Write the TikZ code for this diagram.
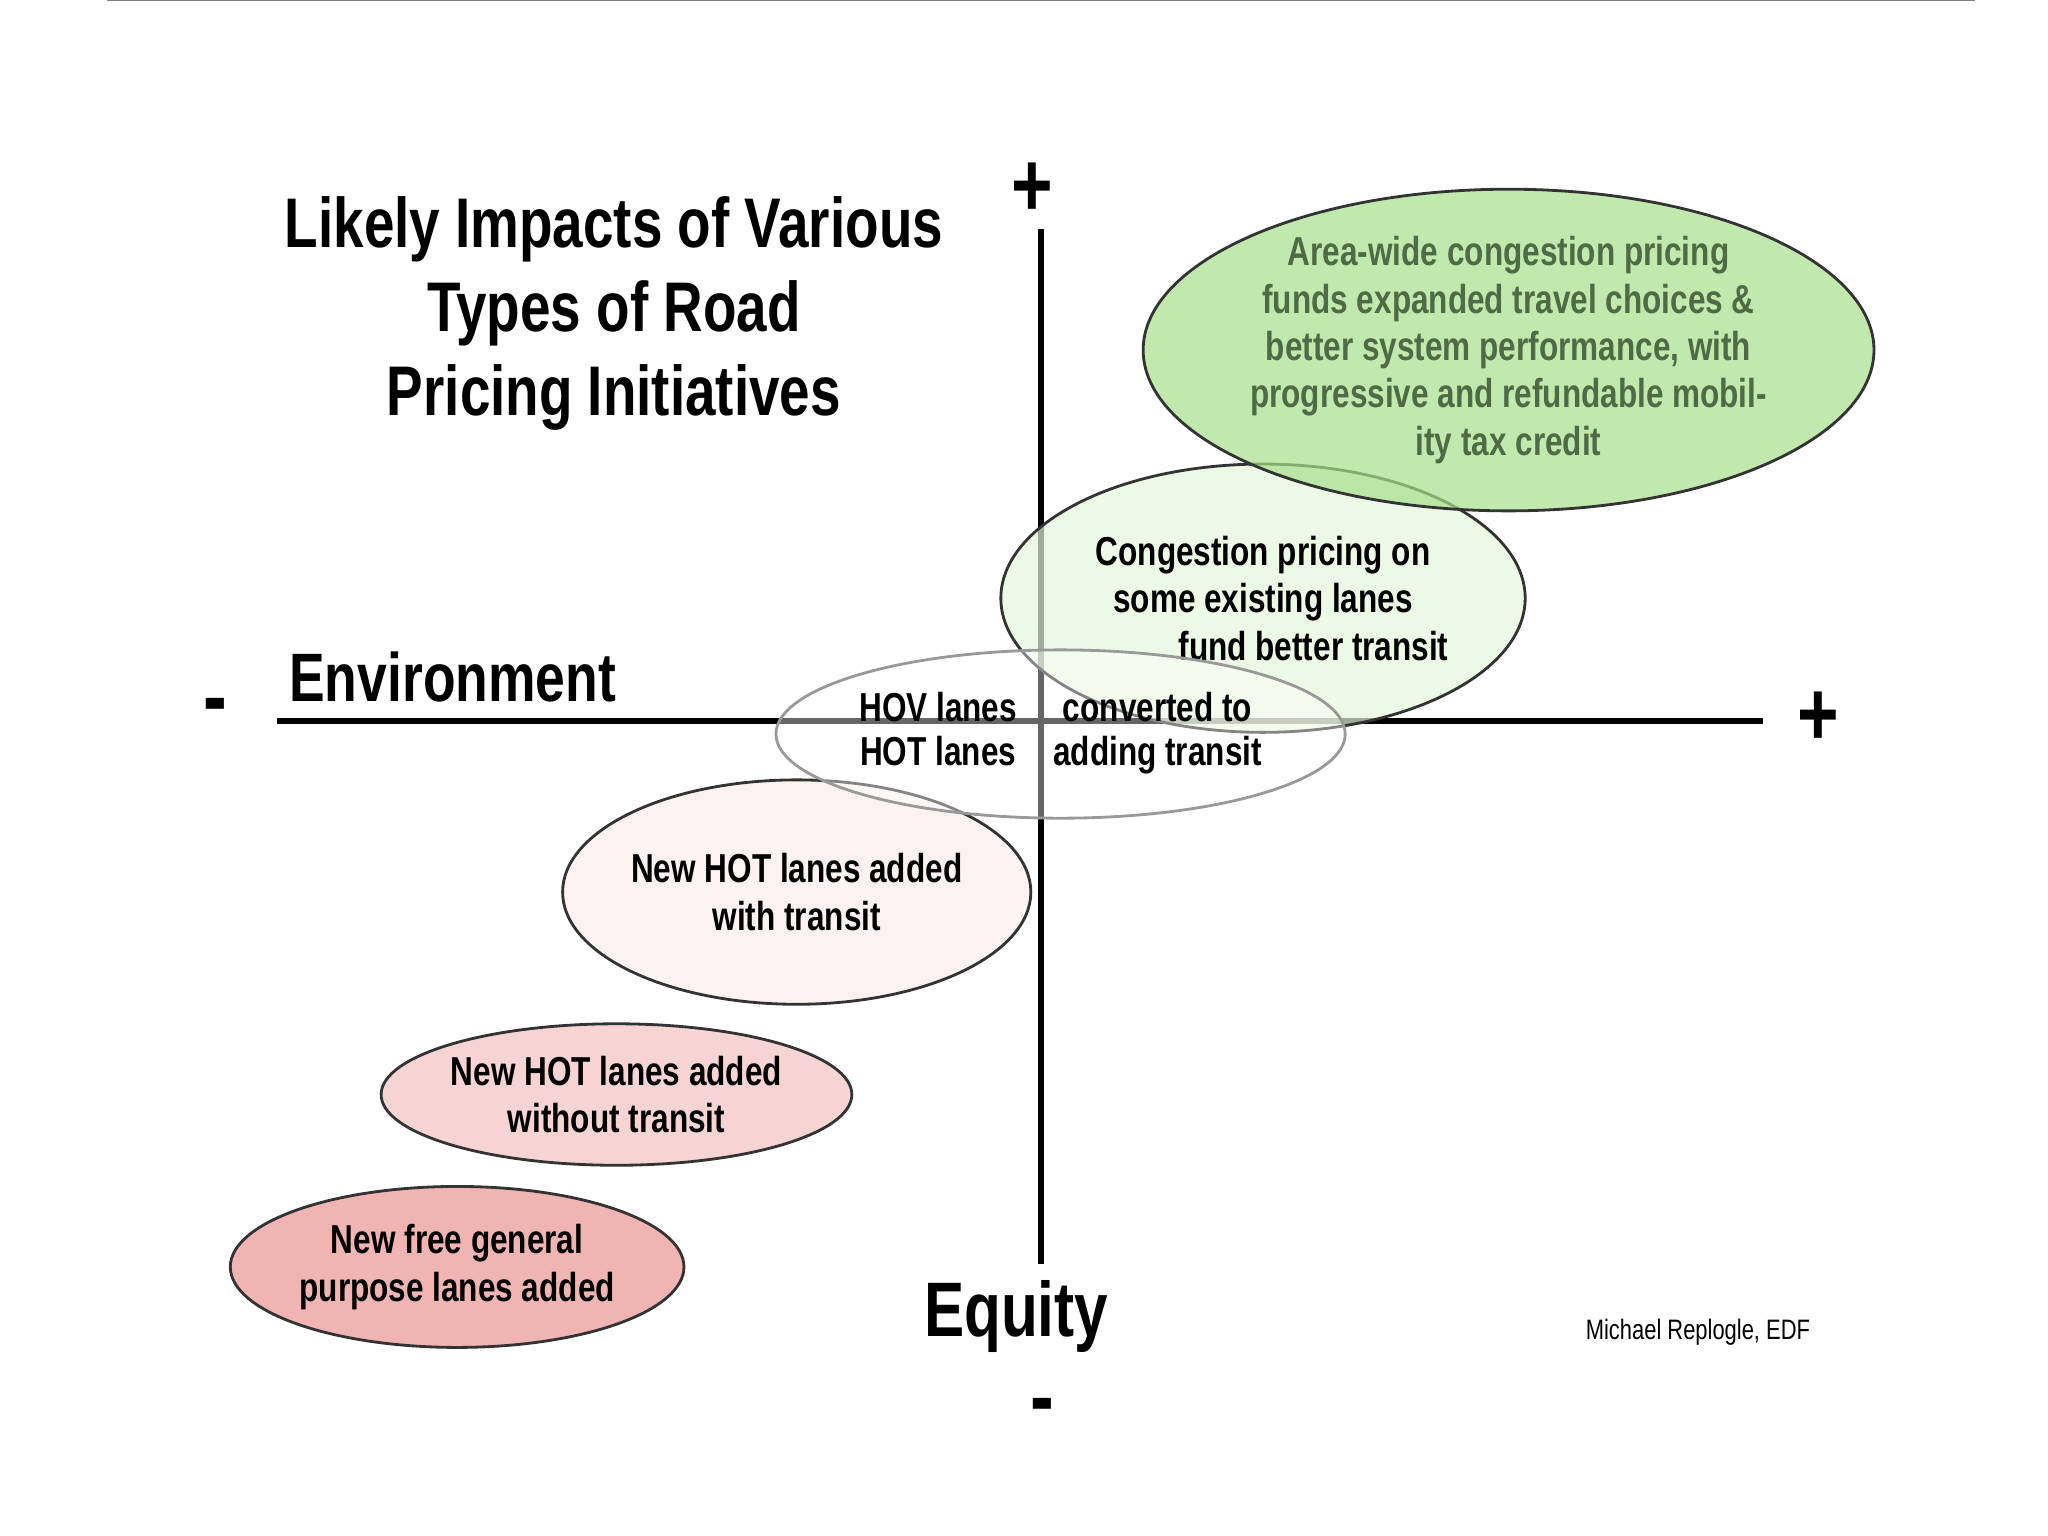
\documentclass[tikz,border=0pt]{standalone}
\usepackage{fontspec}
\setmainfont{Liberation Sans}[FakeStretch=0.78]
\usetikzlibrary{shapes.geometric}
\definecolor{greenA}{HTML}{A6E08C}
\definecolor{greenB}{HTML}{E4F6DA}
\definecolor{pinkA}{HTML}{FBEDEC}
\definecolor{pinkB}{HTML}{F2C2C0}
\definecolor{redA}{HTML}{E99593}
\definecolor{textG}{HTML}{4F6B45}
\newcommand{\px}{0.347pt}
\begin{document}
\begin{tikzpicture}[x=0.01306cm,y=-0.01306cm,
  blob/.style={ellipse,draw=black!80,thick,fill opacity=0.7,text opacity=1,
    font=\bfseries\fontsize{11.5}{13.5}\selectfont,align=center,inner sep=0pt},
  axis/.style={line width=1.6pt},
  sign/.style={font=\bfseries\fontsize{26}{26}\selectfont}]
\useasboundingbox (0,0) rectangle (1568,1176);
\draw[gray,thick] (82,0) -- (1512,0);
% axes
\coordinate (vt) at (797,175);
\coordinate (vb) at (797,968);
\coordinate (hl) at (212,552);
\coordinate (hr) at (1350,552);
\draw[axis] (vt) -- (vb);
\draw[axis] (hl) -- (hr);
\node[sign] (plusV) at (790,145) {+};
\node[sign] (minusV) at (798,1082) {-};
\node[sign] (minusH) at (165,546) {-};
\node[sign] (plusH) at (1392,550) {+};
\node[anchor=west,font=\bfseries\fontsize{19.5}{19.5}\selectfont] (env) at (212,518) {Environment};
\node[font=\bfseries\fontsize{22}{22}\selectfont] (eq) at (778,1008) {Equity};
\node[align=center,font=\bfseries\fontsize{20}{24}\selectfont] (title) at (470,240)
  {Likely Impacts of Various\\Types of Road\\Pricing Initiatives};
% ellipses
\node[blob,fill=greenB,minimum width=370*\px,minimum height=220*\px] (cong) at (967,458)
  {Congestion pricing on\\some existing lanes\\\hspace*{2.5em}fund better transit};
\node[blob,fill=greenA,text=textG,minimum width=546*\px,minimum height=256*\px] (area) at (1155,268)
  {Area-wide congestion pricing\\funds expanded travel choices \&\\better system performance, with\\progressive and refundable mobil-\\ity tax credit};
\node[blob,fill=pinkA,minimum width=340*\px,minimum height=184*\px] (hotT) at (610,683)
  {New HOT lanes added\\with transit};
\node[blob,draw=black!40,fill=white,fill opacity=0.4,minimum width=390*\px,minimum height=138*\px] (hov) at (812,562)
  {\begin{tabular}{@{}c@{\hspace{0.9em}}c@{}}HOV lanes & converted to\\[-1pt] HOT lanes & adding transit\end{tabular}};
\node[blob,fill=pinkB,minimum width=386*\px,minimum height=116*\px] (hotN) at (472,838)
  {New HOT lanes added\\without transit};
\node[blob,fill=redA,minimum width=372*\px,minimum height=132*\px] (free) at (350,970)
  {New free general\\purpose lanes added};
\node[font=\fontsize{8}{8}\selectfont] (credit) at (1300,1020) {Michael Replogle, EDF};
\end{tikzpicture}
\end{document}
